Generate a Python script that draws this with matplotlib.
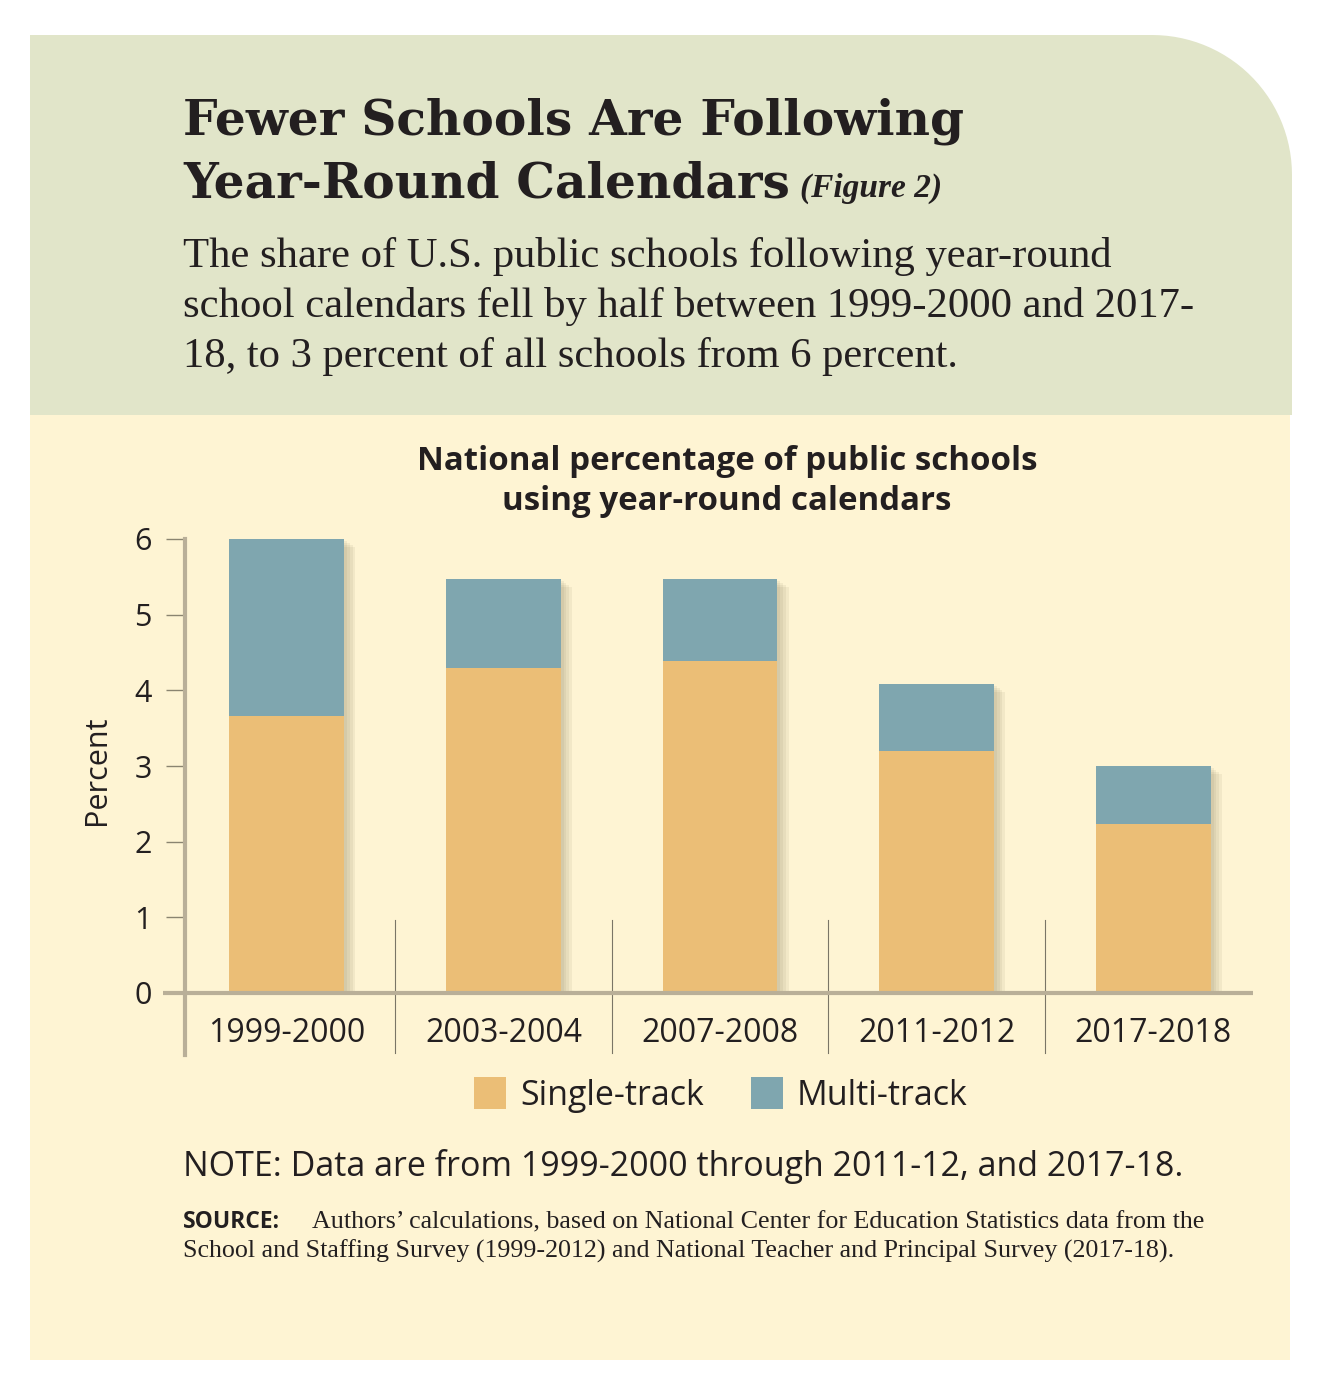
import matplotlib
matplotlib.use("Agg")
import matplotlib.pyplot as plt
from matplotlib.path import Path
from matplotlib.patches import PathPatch, Rectangle
import matplotlib.patheffects as pe
import numpy as np

# data
years = ['1999-2000', '2003-2004', '2007-2008', '2011-2012', '2017-2018']
single_track = [3.66, 4.29, 4.39, 3.20, 2.23]
total = [6.00, 5.47, 5.47, 4.08, 3.00]
multi_track = [t - s for t, s in zip(total, single_track)]
yticks = [0, 1, 2, 3, 4, 5, 6]

W, H = 1323, 1394
ORANGE = '#ebbe76'
TEAL = '#7fa6af'
GREEN = '#e1e5c9'
CREAM = '#fef4d3'
AXGREY = '#b9af98'
INK = '#231f20'
SANS = ['Open Sans', 'DejaVu Sans']
SERIF = ['Liberation Serif', 'DejaVu Serif']


def fx(px):
    return px / W


def fy(py):
    return 1 - py / H


fig = plt.figure(figsize=(W / 100, H / 100), dpi=100)
fig.patch.set_facecolor('white')

# green header panel, rounded top-right corner
r = 140
ang = np.linspace(np.pi / 2, 0, 30)
pts = [(30, 415), (30, 35)]
pts += [(1292 - r + r * np.cos(a), 35 + r - r * np.sin(a)) for a in ang]
pts += [(1292, 415), (30, 415)]
verts = [(fx(x), fy(y)) for x, y in pts]
fig.patches.append(PathPatch(Path(verts), transform=fig.transFigure,
                             facecolor=GREEN, edgecolor='none', zorder=-2))
# cream chart panel
fig.patches.append(Rectangle((fx(30), fy(1360)), fx(1290) - fx(30), fy(415) - fy(1360),
                             transform=fig.transFigure, facecolor=CREAM,
                             edgecolor='none', zorder=-2))

# header text
fig.text(fx(183), fy(121), 'Fewer Schools Are Following', family=['DejaVu Serif'],
         weight='bold', fontsize=35, color=INK, va='center', ha='left')
fig.text(fx(183), fy(184), 'Year-Round Calendars', family=['DejaVu Serif'],
         weight='bold', fontsize=35, color=INK, va='center', ha='left')
fig.text(fx(800), fy(188), '(Figure 2)', family=SERIF, weight='bold', style='italic',
         fontsize=24, color=INK, va='center', ha='left')

sub = ['The share of U.S. public schools following year-round',
       'school calendars fell by half between 1999-2000 and 2017-',
       '18, to 3 percent of all schools from 6 percent.']
for i, line in enumerate(sub):
    fig.text(fx(183), fy(256 + 50 * i), line, family=SERIF, fontsize=30.7,
             color=INK, va='center', ha='left')

fig.text(fx(727), fy(462), 'National percentage of public schools', family=SANS,
         weight='bold', fontsize=23.8, color=INK, ha='center', va='center')
fig.text(fx(727), fy(502), 'using year-round calendars', family=SANS,
         weight='bold', fontsize=23.8, color=INK, ha='center', va='center')

# axes: y=0 at 993 px, y=6 at 539 px
ppu = (993 - 539) / 6
ymax = 6.3
ax_top = 993 - ymax * ppu
ax = fig.add_axes([fx(185), fy(993), fx(1253) - fx(185), (993 - ax_top) / H])
ax.set_facecolor('none')
x = np.arange(len(years))

# soft drop shadow behind the stacked bars
soft = [pe.SimplePatchShadow(offset=(d, -d * 0.7), shadow_rgbFace='#7d7052', alpha=0.09)
        for d in (2, 4, 6, 8)]
ax.bar(x, total, width=0.53, color=ORANGE, zorder=2, path_effects=soft)
ax.bar(x, single_track, width=0.53, color=ORANGE, zorder=3)
ax.bar(x, multi_track, bottom=single_track, width=0.53, color=TEAL, zorder=3)

ax.set_xlim(-0.47, 4.46)
ax.set_ylim(0, ymax)
for s in ax.spines.values():
    s.set_visible(False)

# left axis line and baseline
ax.plot([-0.47, -0.47], [6, -0.82], color=AXGREY, lw=3, clip_on=False, zorder=4)
ax.plot([-0.57, 4.46], [0, 0], color=AXGREY, lw=3, clip_on=False, zorder=4,
        solid_capstyle='butt')
for xs in [0.5, 1.5, 2.5, 3.5]:
    ax.plot([xs, xs], [0.96, -0.79], color='#7a7566', lw=0.8, clip_on=False, zorder=2)

ax.set_yticks(yticks)
ax.set_yticklabels([str(v) for v in yticks], family=SANS, fontsize=22, color=INK)
ax.tick_params(axis='y', length=14, width=1, color='#8a8470', pad=10, direction='out')
ax.set_xticks(x)
ax.set_xticklabels(years, family=SANS, fontsize=23, color=INK)
ax.tick_params(axis='x', length=0, pad=17)
fig.text(fx(97), fy(770), 'Percent', family=SANS, fontsize=22, color=INK,
         rotation=90, ha='center', va='center')

# legend
fig.patches.append(Rectangle((fx(474), fy(1109)), fx(32), 32 / H, transform=fig.transFigure,
                             facecolor=ORANGE, edgecolor='none'))
fig.text(fx(520), fy(1096), 'Single-track', family=SANS, fontsize=24.5, color=INK,
         ha='left', va='center')
fig.patches.append(Rectangle((fx(751), fy(1109)), fx(32), 32 / H, transform=fig.transFigure,
                             facecolor=TEAL, edgecolor='none'))
fig.text(fx(797), fy(1096), 'Multi-track', family=SANS, fontsize=24.5, color=INK,
         ha='left', va='center')

fig.text(fx(183), fy(1167), 'NOTE: Data are from 1999-2000 through 2011-12, and 2017-18.',
         family=SANS, fontsize=24.5, color=INK, ha='left', va='center')

fig.text(fx(183), fy(1222), 'SOURCE:', family=SANS, weight='bold', fontsize=16.5,
         color=INK, ha='left', va='center')
fig.text(fx(312), fy(1222), 'Authors\u2019 calculations, based on National Center for '
         'Education Statistics data from the', family=SERIF, fontsize=18.7, color=INK,
         ha='left', va='center')
fig.text(fx(183), fy(1251), 'School and Staffing Survey (1999-2012) and National Teacher '
         'and Principal Survey (2017-18).', family=SERIF, fontsize=18.7, color=INK,
         ha='left', va='center')

fig.savefig('out.png', dpi=100, facecolor='white')
